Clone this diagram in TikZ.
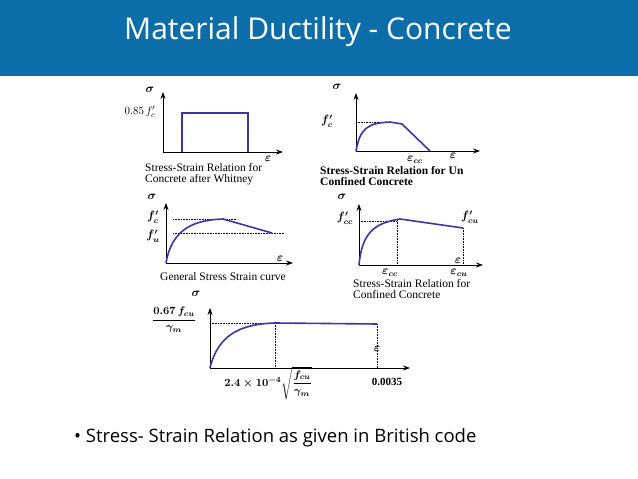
\documentclass[tikz,border=0pt]{standalone}
\usepackage{amsmath}
\usepackage{fontspec}
\setmainfont{Liberation Serif}
\newfontfamily\titlefont{Open Sans}
\usetikzlibrary{arrows.meta}
\definecolor{barblue}{RGB}{12,110,168}
\definecolor{curveblue}{RGB}{55,55,170}
\tikzset{
 axis/.style={-{Stealth[length=7pt,width=5pt]},line width=0.8pt},
 curve/.style={curveblue,line width=1.6pt},
 guide/.style={dash pattern=on 0.8pt off 0.8pt,line width=0.4pt},
 lbl/.style={font=\fontsize{12}{13}\selectfont,inner sep=0pt},
 captxt/.style={font=\fontsize{11.5}{11}\selectfont,align=left,inner sep=0pt,anchor=north west}
}
\begin{document}
\begin{tikzpicture}[x=1pt,y=-1pt]
\useasboundingbox (0,0) rectangle (638,479);
\fill[white] (0,0) rectangle (638,479);
\fill[barblue] (0,0) rectangle (638,76);
\node[text=white,font=\titlefont\fontsize{30}{32}\selectfont] (title) at (318,32) {Material Ductility - Concrete};
% Graph 1
\coordinate (o1) at (163,152);
\draw[axis] (o1) -- (163,92);
\draw[axis] (o1) -- (283,152);
\draw[curve] (182,152) -- (182,113) -- (248,113) -- (248,152);
\node[lbl] (s1) at (150,90) {$\boldsymbol{\sigma}$};
\node[lbl,font=\fontsize{11}{12}\selectfont] (f1) at (140,112) {$0.85\,f'_c$};
\node[lbl] (e1) at (268,159) {$\boldsymbol{\varepsilon}$};
\node[captxt] (c1) at (145,163) {Stress-Strain Relation for\\Concrete after Whitney};
% Graph 2
\coordinate (o2) at (356,151);
\draw[axis] (o2) -- (356,93);
\draw[axis] (o2) -- (480,151);
\draw[guide] (356,122) -- (390,122);
\draw[curve] (356,151) .. controls (360,128) and (368,123) .. (390,122) -- (402,124) -- (430,151);
\node[lbl] (s2) at (337,87) {$\boldsymbol{\sigma}$};
\node[lbl] (f2) at (327,121) {$\boldsymbol{f'_c}$};
\node[lbl] (e2a) at (415,160) {$\boldsymbol{\varepsilon_{cc}}$};
\node[lbl] (e2) at (453,156) {$\boldsymbol{\varepsilon}$};
\node[captxt,font=\bfseries\fontsize{11.5}{11}\selectfont] (c2) at (320,166) {Stress-Strain Relation for Un\\Confined Concrete};
% Graph 3
\coordinate (o3) at (166,263);
\draw[axis] (o3) -- (166,203);
\draw[axis] (o3) -- (293,263);
\draw[guide] (173,219) -- (237,219);
\draw[guide] (173,233) -- (285,233);
\draw[curve] (166,263) .. controls (172,228) and (195,220) .. (223,219) -- (272,233);
\node[lbl] (s3) at (152,197) {$\boldsymbol{\sigma}$};
\node[lbl] (f3a) at (153,217) {$\boldsymbol{f'_c}$};
\node[lbl] (f3b) at (153,236) {$\boldsymbol{f'_u}$};
\node[lbl] (e3) at (280,259) {$\boldsymbol{\varepsilon}$};
\node[captxt] (c3) at (160,272) {General Stress Strain curve};
% Graph 4
\coordinate (o4) at (359,265);
\draw[axis] (o4) -- (359,204);
\draw[axis] (o4) -- (483,265);
\draw[guide] (359,221) -- (397,221);
\draw[guide] (397,220) -- (397,265);
\draw[guide] (463,228) -- (463,265);
\draw[curve] (359,265) .. controls (362,232) and (375,223) .. (400,219) -- (463,228);
\node[lbl] (s4) at (342,197) {$\boldsymbol{\sigma}$};
\node[lbl] (f4a) at (345,218) {$\boldsymbol{f'_{cc}}$};
\node[lbl] (f4b) at (470,217) {$\boldsymbol{f'_{cu}}$};
\node[lbl] (e4) at (458,261) {$\boldsymbol{\varepsilon}$};
\node[lbl] (e4a) at (390,273) {$\boldsymbol{\varepsilon_{cc}}$};
\node[lbl] (e4b) at (459,273) {$\boldsymbol{\varepsilon_{cu}}$};
\node[captxt] (c4) at (353,279) {Stress-Strain Relation for\\Confined Concrete};
% Graph 5
\coordinate (o5) at (210,368);
\draw[axis] (o5) -- (210,308);
\draw[axis] (o5) -- (410,368);
\draw[guide] (210,323) -- (275,323);
\draw[guide] (275,323) -- (275,368);
\draw[guide] (377,324) -- (377,368);
\draw[curve] (210,368) .. controls (218,335) and (240,324) .. (275,323) -- (377,324);
\node[lbl] (s5) at (196,294) {$\boldsymbol{\sigma}$};
\node[lbl,font=\fontsize{11}{12}\selectfont] (f5) at (174,320) {$\boldsymbol{\dfrac{0.67\,f_{cu}}{\gamma_m}}$};
\node[lbl] (e5) at (377,349) {$\boldsymbol{\varepsilon}$};
\node[lbl,font=\fontsize{11}{12}\selectfont] (x5a) at (268,383) {$\boldsymbol{2.4\times10^{-4}\sqrt{\dfrac{f_{cu}}{\gamma_m}}}$};
\node[lbl,font=\bfseries\fontsize{11}{12}\selectfont] (x5b) at (387,382) {0.0035};
% bullet
\node[anchor=west,font=\titlefont\fontsize{18.5}{20}\selectfont,inner sep=0pt] (b) at (74,438) {• Stress- Strain Relation as given in British code};
\end{tikzpicture}
\end{document}
